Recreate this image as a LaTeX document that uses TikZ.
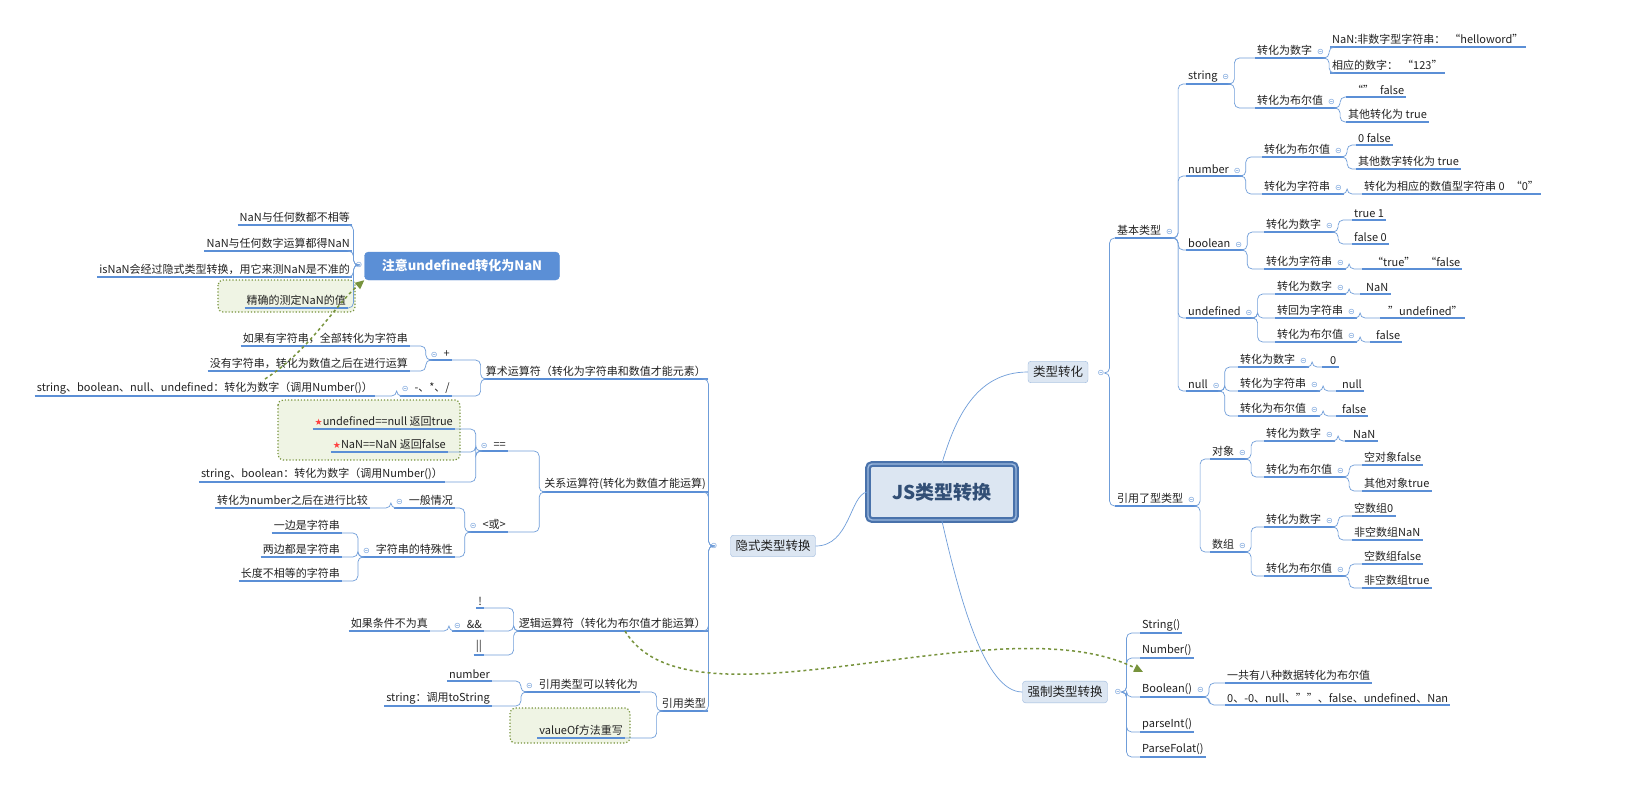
\documentclass[tikz,border=0pt]{standalone}
\usepackage{fontspec}
\setmainfont{Noto Sans CJK SC}
\newfontfamily\djv{DejaVu Sans}
\usetikzlibrary{arrows.meta}
\definecolor{ulc}{HTML}{5B8FD6}
\definecolor{brc}{HTML}{6F9DD9}
\definecolor{boxf}{HTML}{DCE6F2}
\definecolor{boxd}{HTML}{9DB9DE}
\definecolor{gr}{HTML}{77933C}
\definecolor{grf}{HTML}{EFF4E4}
\definecolor{txc}{HTML}{222222}
\newcommand\cmk{{\djv\fontsize{8}{8}\selectfont\color{brc}⊝}}
\newcommand\st{{\djv\color{red!75}\small★}}
\tikzset{
 tx/.style={font=\fontsize{11}{12.5}\selectfont,text=txc,inner xsep=2pt,inner ysep=2pt,
   append after command={(\tikzlastnode.south west) edge[ulc,line width=1.3pt] (\tikzlastnode.south east)}},
 rt/.style={tx,anchor=south west},
 lt/.style={tx,anchor=south east},
 br/.style={brc,line width=0.7pt,rounded corners=5pt},
 bx/.style={draw=boxd,fill=boxf,rounded corners=3pt,font=\fontsize{12.5}{14}\selectfont,text=txc,inner sep=5pt},
 gbox/.style={draw=gr,line width=1.2pt,dotted,fill=grf,rounded corners=5pt},
 garrow/.style={gr,line width=1.5pt,dashed,-{Triangle[length=9pt,width=8pt]}},
 mk/.style={inner sep=0pt}
}
\newcommand\RN[4]{\node[rt] (#1) at (#2,#3+11) {#4};}
\newcommand\LN[4]{\node[lt] (#1) at (#2,#3+11) {#4};}
\newcommand\rb[2]{\draw[br] (#1.south east) -- ++(3pt,0) |- (#2.south west);}
\newcommand\lb[2]{\draw[br] (#1.south west) -- ++(-3pt,0) |- (#2.south east);}
\newcommand\C{\hspace{5pt}\cmk}
\newcommand\CL{\cmk\hspace{6pt}}
\begin{document}
\begin{tikzpicture}[x=1pt,y=-1pt]
\fill[white] (0,0) rectangle (1650,809);
% green boxes
\draw[gbox] (278,400) rectangle (460,460);
\draw[gbox] (218,280) rectangle (355,312);
\draw[gbox] (510,708) rectangle (630,743);
% central boxes
\node[draw=ulc!80!black,line width=2.2pt,double=boxd,double distance=1.4pt,fill=boxf,rounded corners=4pt,minimum width=148pt,minimum height=56pt,font=\fontsize{19}{22}\selectfont\bfseries,text=ulc!55!black] (root) at (942,492) {JS类型转换};
\node[bx] (lx) at (1058,372) {类型转化};
\node[bx] (qz) at (1065,692) {强制类型转换};
\node[bx] (ys) at (773,546) {隐式类型转换};
\node[draw=ulc,fill=ulc,rounded corners=4pt,minimum width=195pt,minimum height=28pt,text=white,font=\fontsize{13}{15}\selectfont\bfseries] (zy) at (462,266) {注意undefined转化为NaN};
\node[mk] (mlx) at (1101,373) {\cmk};
\node[mk] (mqz) at (1118,692) {\cmk};
\node[mk] (mys) at (714,546) {\cmk};
\node[mk] (mzy) at (359,265) {\cmk};
\draw[brc,line width=0.7pt] (root.north) .. controls (955,420) and (975,372) .. (lx.west);
\draw[brc,line width=0.7pt] (root.south) .. controls (960,600) and (985,692) .. (qz.west);
\draw[brc,line width=0.7pt] (root.west) .. controls (850,495) and (850,546) .. (ys.east);
% right tree
\RN{jb}{1115}{227}{基本类型\C}
\RN{yy}{1115}{495}{引用了型类型\C}
\draw[br] (mlx.east) -- ++(5pt,0) |- (jb.south west);
\draw[br] (mlx.east) -- ++(5pt,0) |- (yy.south west);
\RN{s}{1186}{73}{string\C}
\RN{n}{1186}{165}{number\C}
\RN{b}{1186}{239}{boolean\C}
\RN{u}{1186}{307}{undefined\C}
\RN{nl}{1186}{380}{null\C}
\foreach \c in {s,n,b,u,nl}{\rb{jb}{\c}}
\RN{s1}{1255}{47}{转化为数字\C}
\RN{s11}{1330}{36}{NaN:非数字型字符串：\hspace{4pt}“helloword”}
\RN{s12}{1330}{62}{相应的数字：\hspace{4pt}“123”}
\RN{s2}{1255}{97}{转化为布尔值\C}
\RN{s21}{1346}{86}{\hspace{4pt}“”\hspace{6pt}false}
\RN{s22}{1346}{111}{其他转化为 true}
\rb{s}{s1}\rb{s}{s2}\rb{s1}{s11}\rb{s1}{s12}\rb{s2}{s21}\rb{s2}{s22}
\RN{n1}{1262}{146}{转化为布尔值\C}
\RN{n11}{1356}{134}{0 false}
\RN{n12}{1356}{158}{其他数字转化为 true}
\RN{n2}{1262}{183}{转化为字符串\C}
\RN{n21}{1362}{183}{转化为相应的数值型字符串 0\hspace{6pt}“0”}
\rb{n}{n1}\rb{n}{n2}\rb{n1}{n11}\rb{n1}{n12}\rb{n2}{n21}
\RN{b1}{1264}{221}{转化为数字\C}
\RN{b11}{1352}{209}{true 1}
\RN{b12}{1352}{233}{false 0}
\RN{b2}{1264}{258}{转化为字符串\C}
\RN{b21}{1362}{258}{\hspace{8pt}“true”\hspace{10pt}“false}
\rb{b}{b1}\rb{b}{b2}\rb{b1}{b11}\rb{b1}{b12}\rb{b2}{b21}
\RN{u1}{1275}{283}{转化为数字\C}
\RN{u11}{1360}{283}{\hspace{4pt}NaN}
\RN{u2}{1275}{307}{转回为字符串\C}
\RN{u21}{1380}{307}{\hspace{6pt}"undefined"}
\RN{u3}{1275}{331}{转化为布尔值\C}
\RN{u31}{1370}{331}{\hspace{4pt}false}
\rb{u}{u1}\rb{u}{u2}\rb{u}{u3}\rb{u1}{u11}\rb{u2}{u21}\rb{u3}{u31}
\RN{nl1}{1238}{356}{转化为数字\C}
\RN{nl11}{1322}{356}{\hspace{6pt}0}
\RN{nl2}{1238}{380}{转化为字符串\C}
\RN{nl21}{1336}{380}{\hspace{4pt}null}
\RN{nl3}{1238}{405}{转化为布尔值\C}
\RN{nl31}{1336}{405}{\hspace{4pt}false}
\rb{nl}{nl1}\rb{nl}{nl2}\rb{nl}{nl3}\rb{nl1}{nl11}\rb{nl2}{nl21}\rb{nl3}{nl31}
\RN{o}{1210}{448}{对象\C}
\RN{o1}{1264}{430}{转化为数字\C}
\RN{o11}{1345}{430}{\hspace{6pt}NaN}
\RN{o2}{1264}{466}{转化为布尔值\C}
\RN{o21}{1362}{454}{空对象false}
\RN{o22}{1362}{480}{其他对象true}
\RN{a}{1210}{541}{数组\C}
\RN{a1}{1264}{516}{转化为数字\C}
\RN{a11}{1352}{505}{空数组0}
\RN{a12}{1352}{529}{非空数组NaN}
\RN{a2}{1264}{565}{转化为布尔值\C}
\RN{a21}{1362}{553}{空数组false}
\RN{a22}{1362}{577}{非空数组true}
\rb{yy}{o}\rb{yy}{a}\rb{o}{o1}\rb{o}{o2}\rb{o1}{o11}\rb{o2}{o21}\rb{o2}{o22}
\rb{a}{a1}\rb{a}{a2}\rb{a1}{a11}\rb{a1}{a12}\rb{a2}{a21}\rb{a2}{a22}
\RN{q1}{1140}{622}{String()}
\RN{q2}{1140}{647}{Number()}
\RN{q3}{1140}{686}{Boolean()\C}
\RN{q31}{1225}{672}{一共有八种数据转化为布尔值}
\RN{q32}{1225}{694}{0、-0、null、""、false、undefined、Nan}
\RN{q4}{1140}{721}{parseInt()}
\RN{q5}{1140}{746}{ParseFolat()}
\foreach \c in {q1,q2,q3,q4,q5}{\draw[br] (mqz.east) -- ++(5pt,0) |- (\c.south west);}
\rb{q3}{q31}\rb{q3}{q32}
% left tree
\LN{ar}{708}{368}{算术运算符（转化为字符串和数值才能元素）}
\LN{gx}{708}{481}{关系运算符(转化为数值才能运算)}
\LN{lj}{708}{620}{逻辑运算符（转化为布尔值才能运算）}
\LN{yl}{708}{700}{引用类型}
\foreach \c in {ar,gx,lj,yl}{\draw[br] (mys.west) -- ++(-2pt,0) |- (\c.south east);}
\LN{plus}{452}{349}{\CL+\hspace{6pt}}
\LN{mul}{452}{385}{\CL-、*、/}
\lb{ar}{plus}\lb{ar}{mul}
\LN{p1}{410}{335}{如果有字符串，全部转化为字符串}
\LN{p2}{410}{360}{没有字符串，转化为数值之后在进行运算}
\LN{m1}{375}{385}{string、boolean、null、undefined：转化为数字（调用Number()）}
\lb{plus}{p1}\lb{plus}{p2}\lb{mul}{m1}
\LN{eq}{508}{440}{\CL==\hspace{6pt}}
\LN{ltn}{508}{521}{\CL<或>}
\lb{gx}{eq}\lb{gx}{ltn}
\LN{e1}{455}{418}{\st undefined==null 返回true}
\LN{e2}{448}{441}{\st NaN==NaN 返回false}
\LN{e3}{445}{471}{string、boolean：转化为数字（调用Number()）}
\lb{eq}{e1}\lb{eq}{e2}\lb{eq}{e3}
\LN{g1}{455}{497}{\CL 一般情况}
\LN{g2}{455}{546}{\CL 字符串的特殊性}
\lb{ltn}{g1}\lb{ltn}{g2}
\LN{g11}{370}{497}{转化为number之后在进行比较}
\LN{t1}{342}{522}{一边是字符串}
\LN{t2}{342}{546}{两边都是字符串}
\LN{t3}{342}{570}{长度不相等的字符串}
\lb{g1}{g11}\lb{g2}{t1}\lb{g2}{t2}\lb{g2}{t3}
\LN{l1}{484}{597}{!\hspace{6pt}}
\LN{l2}{484}{620}{\CL\&\&\hspace{4pt}}
\LN{l3}{484}{644}{||\hspace{6pt}}
\lb{lj}{l1}\lb{lj}{l2}\lb{lj}{l3}
\LN{l21}{430}{620}{如果条件不为真}
\lb{l2}{l21}
\LN{r1}{640}{681}{\CL 引用类型可以转化为}
\LN{r2}{625}{727}{valueOf方法重写}
\lb{yl}{r1}\lb{yl}{r2}
\LN{r11}{492}{670}{number}
\LN{r12}{492}{695}{string：调用toString}
\lb{r1}{r11}\lb{r1}{r12}
\LN{z1}{352}{214}{NaN与任何数都不相等}
\LN{z2}{352}{240}{NaN与任何数字运算都得NaN}
\LN{z3}{352}{266}{isNaN会经过隐式类型转换，用它来测NaN是不准的}
\LN{z4}{348}{297}{精确的测定NaN的值}
\foreach \c in {z1,z2,z3,z4}{\draw[br] (mzy.west) -- ++(-2pt,0) |- (\c.south east);}
% dashed arrows
\coordinate (da1) at (265,379);
\coordinate (da2) at (625,631);
\coordinate (db2) at (1143,672);
\draw[garrow] (da1) .. controls (310,350) and (335,305) .. (zy.south west);
\draw[garrow] (da2) .. controls (690,740) and (1000,600) .. (db2);
\pgfresetboundingbox
\useasboundingbox (0,0) rectangle (1650,809);
\end{tikzpicture}
\end{document}
